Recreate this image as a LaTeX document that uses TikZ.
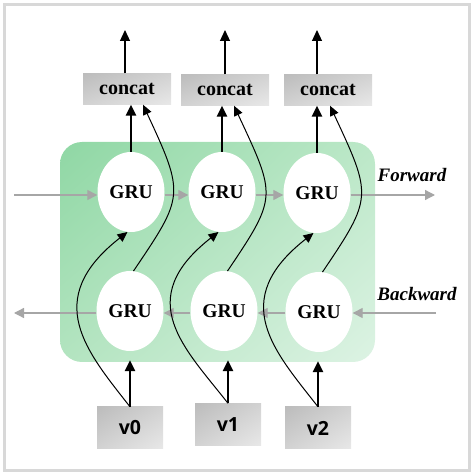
\documentclass[tikz,border=0pt]{standalone}
\usepackage{fontspec}
\setmainfont{Liberation Serif}
\newfontfamily\vfont{Open Sans}
\usetikzlibrary{shapes.geometric,shadings,arrows.meta,calc}

\definecolor{framegray}{HTML}{D8D8D8}
\definecolor{flowgray}{HTML}{A6A6A6}
\definecolor{greenA}{HTML}{8FD7A4}
\definecolor{greenB}{HTML}{BCE8C8}
\definecolor{greenC}{HTML}{B3E4C0}
\definecolor{greenD}{HTML}{DDF3E4}
\definecolor{boxA}{HTML}{BCBCBC}
\definecolor{boxB}{HTML}{D2D2D2}
\definecolor{boxC}{HTML}{E8E8E8}

\begin{document}
\begin{tikzpicture}[x=1pt, y=1pt,
    gru/.style={ellipse, fill=white, minimum width=67pt, minimum height=80pt, inner sep=0pt, font=\bfseries\fontsize{19.5}{19.5}\selectfont},
    catbox/.style={rectangle, minimum width=88pt, minimum height=31pt, upper left=boxA, upper right=boxB, lower left=boxB, lower right=boxC, font=\bfseries\fontsize{20}{20}\selectfont},
    inbox/.style={catbox, minimum width=66pt, minimum height=42pt, font=\vfont\bfseries\fontsize{19.5}{19.5}\selectfont},
    dirlabel/.style={font=\bfseries\itshape\fontsize{19}{19}\selectfont},
    flow/.style={draw=flowgray, line width=1.3pt, -{Triangle[length=10pt,width=10pt]}},
    feed/.style={line width=2.3pt, -{Triangle[length=11pt,width=10pt]}},
    skip/.style={line width=1pt, -{Triangle[length=10pt,width=9pt]}}]
        \useasboundingbox (0,0) rectangle (474,475);
        \draw[framegray, line width=3pt] (4.5,4.5) rectangle (469.5,470.5);
        \shade[rounded corners=22pt, upper left=greenA, upper right=greenB, lower left=greenC, lower right=greenD] (60,113) rectangle (375,333);

        % Nodes
        \node[catbox] (c0) at (127,386) {concat};
        \node[catbox] (c1) at (225,385) {concat};
        \node[catbox] (c2) at (328,385) {concat};
        \node[gru] (f0) at (131,283) {GRU};
        \node[gru] (f1) at (222,283) {GRU};
        \node[gru] (f2) at (317,282) {GRU};
        \node[gru] (b0) at (130,164) {GRU};
        \node[gru] (b1) at (224,164) {GRU};
        \node[gru] (b2) at (319,163) {GRU};
        \node[inbox] (v0) at (130,47) {v0};
        \node[inbox] (v1) at (228,50.5) {v1};
        \node[inbox] (v2) at (318,47) {v2};
        \node[dirlabel] (fw) at (412,300) {Forward};
        \node[dirlabel] (bw) at (417,181) {Backward};
        \coordinate (fin) at (14,280);
        \coordinate (fout) at (435,280);
        \coordinate (bin) at (436,162);
        \coordinate (bout) at (14,162);
        \coordinate (o0) at (125,445);
        \coordinate (o1) at (225,445);
        \coordinate (o2) at (317,445);

        % Edges
        \draw[flow] (fin) -- (fin -| f0.west);
        \draw[flow] (f0.east |- fin) -- (f1.west |- fin);
        \draw[flow] (f1.east |- fin) -- (f2.west |- fin);
        \draw[flow] (f2.east |- fout) -- (fout);
        \draw[flow] (bin) -- (bin -| b2.east);
        \draw[flow] (b2.west |- bin) -- (b1.east |- bin);
        \draw[flow] (b1.west |- bin) -- (b0.east |- bin);
        \draw[flow] (b0.west |- bin) -- (bout);

        \draw[line width=1.2pt, -{Triangle[length=11pt,width=10pt]}] (o0 |- c0.north) -- (o0);
        \draw[line width=1.2pt, -{Triangle[length=11pt,width=10pt]}] (o1 |- c1.north) -- (o1);
        \draw[line width=1.2pt, -{Triangle[length=11pt,width=10pt]}] (o2 |- c2.north) -- (o2);

        \draw[feed] (f0.north) -- (f0.north |- c0.south);
        \draw[feed] (f1.north) -- (f1.north |- c1.south);
        \draw[feed] (f2.north) -- (f2.north |- c2.south);
        \draw[feed, shorten >=9pt] (v0.north) -- (v0.north |- b0.south);
        \draw[feed, shorten >=9pt] (v1.north) -- (v1.north |- b1.south);
        \draw[feed, shorten >=9pt] (v2.north) -- (v2.north |- b2.south);

        \draw[skip] (b0.85) .. controls +(56:90) and +(-65:100) .. ($(f0.north |- c0.south)+(12,0)$);
        \draw[skip] (b1.85) .. controls +(56:90) and +(-65:100) .. ($(f1.north |- c1.south)+(12,0)$);
        \draw[skip] (b2.85) .. controls +(56:90) and +(-65:100) .. ($(f2.north |- c2.south)+(13,0)$);
        \draw[skip] (v0.north) .. controls +(128:70) and +(218:110) .. (f0.-95);
        \draw[skip] (v1.north) .. controls +(128:70) and +(218:110) .. (f1.-95);
        \draw[skip] (v2.north) .. controls +(128:70) and +(218:110) .. (f2.-95);
    \end{tikzpicture}
\end{document}
